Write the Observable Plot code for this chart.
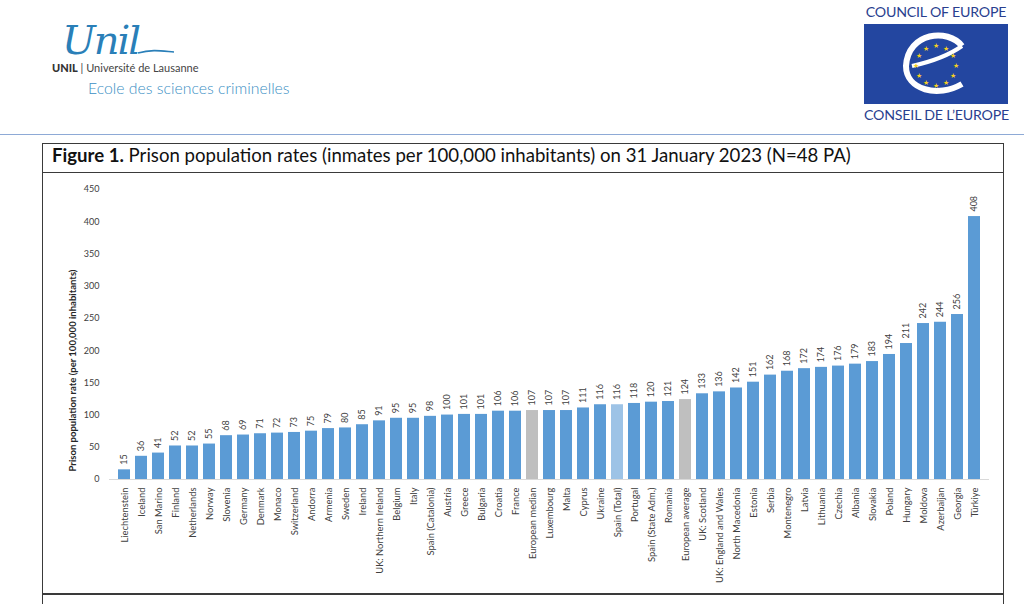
<!DOCTYPE html>
<html>
<head>
<meta charset="utf-8">
<script src="https://cdn.jsdelivr.net/npm/d3@7"></script>
<script src="https://cdn.jsdelivr.net/npm/@observablehq/plot@0.6"></script>
<style>
  html, body { margin: 0; padding: 0; background: #fff; }
  body { width: 1024px; height: 604px; position: relative; overflow: hidden; font-family: Lato, "Open Sans", sans-serif; }
  .abs { position: absolute; }
  #hline { left: 0; top: 134px; width: 1024px; height: 0; border-top: 1.5px solid #8eaad6; }
  #box { left: 42px; top: 143px; width: 960px; height: 470px; border: 1.5px solid #3a3a3a; border-bottom: none; }
  #titleSep { left: 42px; top: 172px; width: 962px; height: 0; border-top: 1.2px solid #3a3a3a; }
  #rowSep { left: 42px; top: 593px; width: 962px; height: 0; border-top: 2px solid #3a3a3a; }
  #title { left: 52px; top: 144px; font-size: 18.6px; color: #111; white-space: nowrap; }
  #title b { font-weight: 700; }
  #chart { left: 43px; top: 173px; }
  #unilSub { left: 52px; top: 61px; font-size: 11px; color: #444; white-space: nowrap; }
  #unilSub b { font-weight: 900; color: #333; }
  #ecole { left: 88px; top: 78px; font-size: 15.8px; color: #3b8fc4; white-space: nowrap; font-weight: 300; }
  #coeTop { left: 864px; top: 3px; width: 144px; text-align: center; font-size: 14.2px; color: #2a3f8f; white-space: nowrap; letter-spacing: -0.2px; }
  #coeBot { left: 864px; top: 106px; width: 144px; text-align: center; font-size: 14.2px; color: #2a3f8f; white-space: nowrap; letter-spacing: -0.2px; }
</style>
</head>
<body>
<!-- header decorations -->
<svg class="abs" style="left:58px;top:14px" width="150" height="48" viewBox="0 0 150 48">
  <text x="4" y="40" font-family="DejaVu Serif, serif" font-style="italic" font-size="40" fill="#2a7fb8" letter-spacing="-2">Unil</text>
  <path d="M80 39 C 94 35, 104 37, 116 38" stroke="#2a7fb8" stroke-width="1.6" fill="none"/>
</svg>
<div id="unilSub" class="abs"><b>UNIL</b> | Université de Lausanne</div>
<div id="ecole" class="abs">Ecole des sciences criminelles</div>

<div id="coeTop" class="abs">COUNCIL OF EUROPE</div>
<svg class="abs" style="left:864px;top:24px" width="144" height="80" viewBox="0 0 144 80">
  <rect x="0" y="0" width="144" height="80" fill="#2346a0"/>
  <path d="M98 22 C 84 4, 44 8, 42 42 C 42 66, 74 74, 98 60" stroke="#fff" stroke-width="6" fill="none"/>
  <path d="M48 42 C 66 38, 84 32, 98 22" stroke="#fff" stroke-width="4" fill="none"/>
  <g id="stars" fill="#f5d020" font-size="7" text-anchor="middle" dominant-baseline="central"></g>
</svg>
<div id="coeBot" class="abs">CONSEIL DE L’EUROPE</div>
<div id="hline" class="abs"></div>

<!-- figure table -->
<div id="box" class="abs"></div>
<div id="titleSep" class="abs"></div>
<div id="rowSep" class="abs"></div>
<div id="title" class="abs"><b>Figure 1.</b> Prison population rates (inmates per 100,000 inhabitants) on 31 January 2023 (N=48 PA)</div>
<div id="chart" class="abs"></div>

<script>
// ---- data ----
const countries = [
  "Liechtenstein", "Iceland", "San Marino", "Finland", "Netherlands", "Norway", "Slovenia",
  "Germany", "Denmark", "Monaco", "Switzerland", "Andorra", "Armenia", "Sweden", "Ireland",
  "UK: Northern Ireland", "Belgium", "Italy", "Spain (Catalonia)", "Austria", "Greece",
  "Bulgaria", "Croatia", "France", "European median", "Luxembourg", "Malta", "Cyprus",
  "Ukraine", "Spain (Total)", "Portugal", "Spain (State Adm.)", "Romania", "European average",
  "UK: Scotland", "UK: England and Wales", "North Macedonia", "Estonia", "Serbia",
  "Montenegro", "Latvia", "Lithuania", "Czechia", "Albania", "Slovakia", "Poland",
  "Hungary", "Moldova", "Azerbaijan", "Georgia", "Türkiye"
];
const rates = [
  15, 36, 41, 52, 52, 55, 68,
  69, 71, 72, 73, 75, 79, 80, 85,
  91, 95, 95, 98, 100, 101,
  101, 106, 106, 107, 107, 107, 111,
  116, 116, 118, 120, 121, 124,
  133, 136, 142, 151, 162,
  168, 172, 174, 176, 179, 183, 194,
  211, 242, 244, 256, 408
];
const referenceBars = ["European median", "European average"];
const highlightBars = ["Spain (Total)"];
const yTicks = [0, 50, 100, 150, 200, 250, 300, 350, 400, 450];
const yLabel = "Prison population rate (per 100,000 inhabitants)";

const data = countries.map((c, i) => ({
  country: c,
  rate: rates[i],
  group: referenceBars.includes(c) ? "reference" : highlightBars.includes(c) ? "highlight" : "country"
}));

// stars of the CoE logo (decoration)
{
  const g = document.getElementById("stars");
  for (let k = 0; k < 12; k++) {
    const a = k * Math.PI / 6;
    const t = document.createElementNS("http://www.w3.org/2000/svg", "text");
    t.setAttribute("x", 72 + 20 * Math.sin(a));
    t.setAttribute("y", 41 - 20 * Math.cos(a));
    t.textContent = "★";
    g.appendChild(t);
  }
}

const chart = Plot.plot({
  width: 960,
  height: 420,
  marginTop: 16,
  marginBottom: 114,
  marginLeft: 66,
  marginRight: 14,
  style: { fontFamily: "Lato, sans-serif", fontSize: "9px", color: "#404040", background: "transparent", overflow: "visible" },
  x: { domain: countries, padding: 0.32, label: null },
  y: { domain: [0, 450], label: null },
  color: { domain: ["country", "reference", "highlight"], range: ["#5b9bd5", "#bfbfbf", "#9dc3e6"] },
  marks: [
    Plot.barY(data, { x: "country", y: "rate", fill: "group" }),
    Plot.ruleY([0], { stroke: "#d9d9d9", strokeWidth: 1 }),
    Plot.text(data, {
      x: "country", y: "rate", text: d => String(d.rate),
      rotate: -90, textAnchor: "start", lineAnchor: "middle", dy: -5,
      fill: "#404040", fontSize: 9
    }),
    Plot.axisX({ tickRotate: -90, tickSize: 0, tickPadding: 8, label: null, textAnchor: "end", fontSize: 9.4 }),
    Plot.axisY({ ticks: yTicks, tickSize: 0, tickPadding: 10, fontSize: 9, label: null }),
    Plot.text([yLabel], {
      text: d => d, frameAnchor: "left", textAnchor: "middle", lineAnchor: "middle",
      rotate: -90, dx: -37, dy: 36,
      fontWeight: "bold", fontSize: 9.5, fill: "#262626"
    })
  ]
});

document.getElementById("chart").appendChild(chart);
</script>
</body>
</html>
